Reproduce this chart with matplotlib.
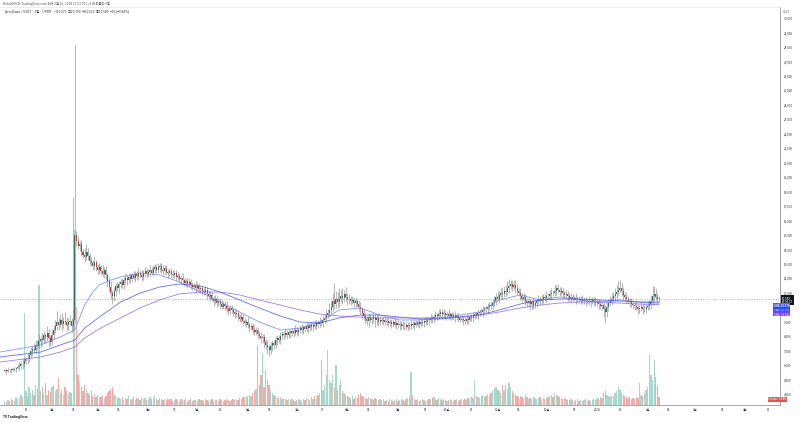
import matplotlib
matplotlib.use("Agg")
import matplotlib.pyplot as plt
import matplotlib.dates as mdates
import numpy as np
from datetime import datetime, timedelta

plt.rcParams['font.family'] = ['Noto Sans CJK KR', 'DejaVu Sans']

# ---------------- data ----------------
first_day = datetime(2023, 1, 3)

close_k = [
    5.62, 5.60, 5.66, 5.64, 5.70, 5.68, 5.75, 5.80, 5.86, 5.95,
    6.10, 6.05, 6.30, 6.45, 6.40, 6.70, 6.95, 7.10, 7.05, 7.40,
    7.35, 7.65, 7.80, 7.70, 8.05, 7.95, 8.20, 7.85, 7.60, 8.10,
    8.45, 8.70, 8.95, 8.80, 9.10, 8.85, 9.05, 9.00, 8.75, 8.95, 9.05, 8.70,
    9.10,
    15.00,
    14.55, 14.20, 14.35, 13.85, 13.60, 13.45, 13.80, 13.55, 13.20, 13.05, 12.85, 13.10, 12.80, 12.60,
    12.75, 12.50, 12.30, 12.55, 12.20, 11.80, 11.40, 11.00, 10.75, 11.10, 11.45, 11.30, 11.60,
    11.75, 11.55, 11.90, 12.05, 11.85, 12.10, 11.95, 12.20, 12.05, 12.30, 12.15, 12.40, 12.25, 12.10, 12.35, 12.50, 12.30, 12.45, 12.60, 12.40,
    12.65, 12.80, 12.55, 12.75, 12.85, 12.60, 12.50, 12.70, 12.45, 12.35,
    12.50, 12.30, 12.20, 12.35, 12.10, 12.15, 11.95, 12.05, 11.85, 11.70, 11.80, 11.60, 11.75, 11.55, 11.40, 11.50, 11.35, 11.45, 11.25, 11.30,
    11.15, 11.05, 11.20, 10.90, 10.75, 10.85, 10.60, 10.40, 10.55, 10.30, 10.45, 10.20, 10.05, 10.25, 10.10, 9.90, 9.75, 9.95, 9.80, 9.70,
    9.55, 9.60, 9.35, 9.20, 9.30, 9.05, 8.90, 9.00, 8.75, 8.60, 8.70, 8.45, 8.30, 8.40, 8.15, 8.00, 7.85, 7.95, 7.60, 7.40,
    7.25, 7.05, 7.30, 7.50, 7.40, 7.70, 7.85, 7.75, 8.00, 8.15, 8.05, 8.25, 8.10, 8.30, 8.20,
    8.35, 8.25, 8.45, 8.30, 8.40, 8.55, 8.45, 8.60, 8.50, 8.70, 8.55, 8.75, 8.65, 8.80, 8.70, 8.90, 8.85, 9.00, 8.90, 9.10,
    9.25, 9.45, 9.60, 9.80, 10.05, 10.40, 10.25, 10.55, 10.35, 10.60, 10.80, 10.65, 10.90, 10.70, 10.55,
    10.60, 10.45, 10.50, 10.30, 10.40, 10.20, 10.05, 9.85, 9.60, 9.40, 9.20, 9.05, 9.30, 9.15, 9.20, 9.35, 9.10, 9.25, 9.00, 9.15,
    9.05, 9.10, 8.95, 9.05, 8.90, 9.00, 8.85, 8.95, 8.80, 8.90, 8.75, 8.85, 8.70, 8.80, 8.75, 8.65, 8.80, 8.70, 8.85, 8.75,
    8.90, 8.80, 8.95, 8.85, 9.00, 8.90, 9.05, 9.00, 9.15, 9.10,
    9.25, 9.20, 9.35, 9.45, 9.40, 9.55, 9.65, 9.50, 9.60, 9.45, 9.55, 9.40, 9.50, 9.35, 9.45, 9.30, 9.40, 9.25, 9.15, 9.20,
    9.10, 9.05, 9.20, 9.15, 9.30, 9.25, 9.40, 9.50, 9.45, 9.60, 9.70, 9.65, 9.80, 9.90, 9.85, 10.00, 10.15, 10.10, 10.30, 10.45,
    10.70, 10.60, 10.85, 11.00, 10.90, 11.15, 11.05, 11.30, 11.45, 11.60, 11.40, 11.55, 11.30, 11.15, 11.00,
    10.80, 10.60, 10.70, 10.45, 10.30, 10.40, 10.20, 10.35, 10.15, 10.30, 10.45, 10.55, 10.45, 10.60, 10.70,
    10.65, 10.80, 10.75, 10.90, 11.00, 10.95, 11.15, 11.30, 11.20, 11.05, 11.10, 10.95, 10.85, 10.90, 10.75,
    10.65, 10.70, 10.60, 10.65, 10.55, 10.60, 10.50, 10.55, 10.45, 10.50, 10.40, 10.45, 10.35, 10.45, 10.50,
    10.40, 10.30, 10.35, 10.20, 10.10, 10.15, 9.85, 9.70, 10.05, 10.30, 10.45, 10.60, 10.75, 10.90, 11.05,
    11.20, 11.35, 11.10, 10.85, 10.70, 10.60, 10.45, 10.35, 10.25, 10.15, 10.10, 10.00, 9.90, 9.95, 10.05,
    9.85, 9.90, 10.00, 10.10, 10.20, 10.45, 10.75, 10.90, 10.70, 10.60, 10.58,
]
first_open_k = 5.60

# upper / lower wick lengths, in units of 100
wick_up = [
    1, 1, 2, 1, 1, 2, 1, 1, 2, 3,
    2, 3, 2, 1, 4, 2, 3, 2, 4, 3,
    3, 5, 2, 4, 3, 2, 5, 3, 2, 4,
    3, 4, 8, 3, 4, 5, 3, 6, 3, 3, 4, 2,
    85,
    131,
    3, 4, 2, 3, 2, 5, 6, 3, 2, 3, 2, 4, 2, 2,
    3, 2, 4, 2, 3, 2, 3, 4, 2, 3, 2, 3, 2,
    2, 3, 2, 3, 2, 2, 3, 2, 3, 2, 2, 3, 2, 3, 2, 3, 2, 2, 3, 2,
    3, 2, 2, 3, 2, 2, 3, 2, 2, 2,
    2, 2, 3, 2, 2, 3, 2, 2, 3, 2, 2, 2, 3, 2, 2, 2, 3, 2, 2, 2,
    2, 2, 3, 2, 2, 3, 2, 2, 3, 2, 2, 2, 3, 2, 2, 3, 2, 2, 2, 2,
    2, 3, 2, 2, 3, 2, 2, 2, 3, 2, 2, 2, 3, 2, 2, 2, 3, 2, 2, 2,
    3, 2, 3, 2, 2, 3, 2, 2, 3, 2, 2, 3, 2, 2, 2,
    2, 2, 3, 2, 2, 2, 3, 2, 2, 2, 3, 2, 2, 2, 3, 2, 2, 3, 2, 3,
    3, 4, 3, 5, 4, 6, 13, 6, 5, 7, 4, 5, 3, 5, 3,
    3, 2, 3, 2, 3, 2, 2, 3, 2, 3, 2, 2, 3, 2, 2, 3, 2, 2, 3, 2,
    2, 2, 2, 3, 2, 2, 2, 2, 3, 2, 2, 2, 2, 3, 2, 2, 2, 2, 3, 2,
    2, 2, 2, 3, 2, 2, 2, 3, 2, 2,
    3, 2, 2, 3, 2, 3, 2, 2, 3, 2, 2, 3, 2, 2, 2, 3, 2, 2, 2, 2,
    2, 2, 3, 2, 2, 2, 3, 2, 2, 3, 2, 2, 3, 2, 2, 3, 2, 3, 3, 3,
    3, 4, 3, 4, 3, 3, 4, 5, 5, 3, 3, 3, 3, 3, 2,
    3, 2, 3, 2, 2, 3, 2, 2, 3, 2, 2, 3, 2, 3, 2,
    2, 3, 2, 3, 3, 2, 4, 3, 3, 2, 3, 2, 2, 3, 2,
    2, 3, 2, 2, 3, 2, 2, 2, 3, 2, 2, 2, 3, 2, 2,
    2, 3, 2, 2, 3, 2, 2, 3, 3, 3, 3, 4, 3, 4, 5,
    6, 5, 3, 3, 2, 3, 2, 2, 3, 2, 2, 3, 2, 2, 3,
    2, 3, 2, 3, 3, 4, 7, 6, 4, 3, 2,
]
wick_dn = [
    1, 2, 1, 1, 2, 1, 1, 2, 1, 2,
    2, 3, 2, 2, 3, 2, 2, 3, 2, 3,
    3, 2, 4, 3, 2, 4, 3, 6, 3, 2,
    3, 2, 3, 4, 2, 5, 3, 2, 4, 3, 2, 4,
    3,
    2,
    3, 2, 3, 3, 2, 3, 2, 3, 3, 2, 3, 2, 3, 3,
    3, 3, 2, 3, 3, 4, 3, 4, 5, 3, 3, 2, 3,
    3, 2, 3, 2, 3, 2, 3, 2, 2, 3, 2, 3, 2, 3, 2, 2, 3, 2, 3, 2,
    2, 3, 2, 2, 3, 2, 3, 2, 2, 3,
    2, 3, 2, 2, 3, 2, 2, 3, 2, 2, 3, 2, 2, 3, 2, 2, 3, 2, 2, 3,
    3, 2, 2, 3, 2, 3, 2, 3, 2, 3, 2, 3, 2, 2, 3, 2, 3, 2, 2, 3,
    3, 2, 3, 2, 2, 3, 2, 3, 2, 3, 2, 3, 2, 2, 3, 2, 3, 3, 4, 3,
    5, 4, 3, 3, 3, 2, 3, 2, 3, 2, 3, 2, 3, 2, 3,
    2, 3, 2, 2, 3, 2, 2, 3, 2, 2, 3, 2, 2, 3, 2, 2, 3, 2, 2, 3,
    2, 3, 2, 3, 2, 3, 4, 3, 4, 3, 3, 4, 3, 3, 4,
    3, 3, 2, 3, 3, 2, 3, 3, 4, 3, 3, 3, 4, 2, 3, 3, 5, 3, 3, 2,
    2, 3, 2, 2, 3, 2, 3, 2, 2, 3, 2, 3, 2, 2, 3, 2, 2, 3, 2, 2,
    3, 2, 2, 3, 2, 2, 3, 2, 2, 3,
    2, 3, 2, 2, 3, 2, 2, 3, 2, 3, 2, 2, 3, 2, 2, 3, 2, 3, 2, 2,
    3, 2, 2, 3, 2, 2, 3, 2, 2, 3, 2, 2, 3, 2, 2, 3, 2, 2, 3, 2,
    3, 2, 3, 2, 3, 2, 3, 2, 3, 2, 3, 2, 3, 3, 2,
    3, 3, 2, 3, 3, 2, 4, 3, 3, 2, 3, 2, 3, 2, 3,
    2, 3, 2, 2, 3, 2, 2, 3, 2, 3, 2, 3, 2, 2, 3,
    2, 3, 2, 2, 3, 2, 2, 3, 2, 2, 3, 2, 2, 3, 2,
    3, 2, 3, 3, 2, 3, 5, 8, 4, 3, 2, 3, 2, 3, 3,
    3, 2, 3, 3, 2, 3, 2, 3, 2, 3, 3, 2, 4, 3, 2,
    3, 2, 3, 2, 3, 3, 3, 3, 2, 3, 2,
]
volume_k = [
    4, 3, 5, 4, 6, 5, 4, 8, 6, 7,
    10, 8, 92, 14, 9, 18, 12, 15, 10, 20,
    16, 120, 14, 18, 12, 22, 10, 15, 13, 18,
    20, 14, 16, 27, 12, 15, 10, 18, 14, 11, 13, 12,
    95,
    175,
    98, 30, 22, 18, 14, 20, 16, 12, 10, 14, 9, 11, 8, 10,
    9, 8, 10, 7, 9, 12, 14, 16, 18, 10, 9, 8, 7,
    6, 8, 5, 7, 6, 9, 5, 6, 8, 5, 7, 6, 5, 8, 6, 7, 5, 6, 8, 6,
    7, 9, 6, 5, 7, 6, 5, 6, 5, 6,
    5, 6, 4, 5, 6, 5, 4, 6, 5, 5, 7, 4, 5, 6, 4, 5, 5, 4, 6, 5,
    5, 4, 6, 5, 4, 5, 6, 4, 5, 5, 4, 6, 5, 4, 5, 6, 5, 4, 5, 6,
    5, 6, 5, 7, 6, 8, 7, 9, 8, 10, 9, 12, 14, 16, 60, 20, 30, 52, 18, 35,
    25, 20, 15, 12, 10, 9, 8, 7, 8, 6, 7, 6, 5, 6, 5,
    6, 5, 4, 5, 6, 5, 4, 6, 5, 7, 6, 5, 8, 6, 9, 7, 10, 12, 45, 15,
    20, 30, 55, 25, 22, 30, 18, 40, 15, 20, 25, 14, 12, 10, 9,
    8, 7, 9, 6, 8, 7, 10, 12, 9, 8, 7, 6, 8, 7, 6, 5, 7, 6, 5, 6,
    5, 6, 4, 5, 4, 6, 5, 4, 5, 6, 4, 5, 6, 5, 4, 6, 7, 8, 33, 10,
    6, 5, 6, 4, 5, 6, 5, 4, 5, 6,
    6, 7, 8, 6, 5, 7, 6, 5, 6, 5, 4, 5, 6, 5, 4, 5, 6, 4, 5, 6,
    5, 6, 5, 7, 6, 8, 7, 25, 9, 8, 7, 9, 10, 8, 9, 11, 10, 12, 14, 16,
    18, 15, 14, 12, 20, 14, 20, 16, 22, 18, 14, 12, 10, 9, 8,
    9, 8, 7, 10, 8, 6, 7, 6, 8, 7, 6, 7, 8, 6, 7,
    6, 7, 8, 9, 10, 8, 12, 10, 9, 8, 7, 6, 7, 6, 5,
    5, 6, 5, 4, 5, 6, 4, 5, 4, 5, 6, 4, 5, 4, 5,
    6, 5, 7, 6, 8, 7, 12, 14, 10, 9, 8, 10, 9, 12, 14,
    18, 15, 12, 10, 9, 8, 7, 8, 6, 7, 6, 8, 7, 22, 10,
    9, 12, 15, 18, 50, 30, 25, 45, 28, 20, 8,
]

# moving averages, sampled at candle positions
ma_day = [-3, 22, 34, 43, 49, 54, 58, 65, 71, 83, 95, 107, 120, 132, 144, 156, 169, 181,
          193, 205, 218, 230, 242, 254, 267, 279, 291, 303, 316, 328, 340, 352, 365, 377, 389, 401]
ma_fast_k = [6.90, 7.39, 7.94, 8.43, 10.15, 11.05, 11.54, 11.88, 12.09, 12.37, 12.23, 11.75,
             11.05, 10.36, 9.67, 8.98, 8.43, 8.56, 8.98, 9.81, 9.95, 9.46, 9.12, 9.12, 9.26,
             9.46, 9.67, 10.50, 10.85, 10.50, 10.71, 10.50, 10.36, 10.50, 10.36, 10.37]
ma_mid_k = [6.56, 6.90, 7.39, 7.73, 8.56, 8.98, 9.32, 9.88, 10.36, 10.98, 11.40, 11.61,
            11.47, 11.05, 10.50, 9.95, 9.39, 8.98, 8.91, 9.26, 9.46, 9.46, 9.32, 9.19, 9.19,
            9.32, 9.46, 9.81, 10.22, 10.50, 10.57, 10.57, 10.50, 10.43, 10.36, 10.29]
ma_slow_k = [6.21, 6.56, 6.90, 7.25, 7.87, 8.22, 8.50, 8.91, 9.26, 9.95, 10.50, 10.92,
             11.05, 11.05, 10.85, 10.50, 10.15, 9.81, 9.53, 9.39, 9.32, 9.26, 9.26, 9.26, 9.26,
             9.32, 9.46, 9.67, 9.95, 10.15, 10.29, 10.36, 10.36, 10.29, 10.22, 10.18]

month_ticks = [
    ("2023-01-16", "16"), ("2023-02-01", "2월"), ("2023-02-14", "14"), ("2023-03-01", "3월"),
    ("2023-03-14", "14"), ("2023-04-01", "4월"), ("2023-04-17", "17"), ("2023-05-01", "5월"),
    ("2023-05-15", "15"), ("2023-06-01", "6월"), ("2023-06-14", "14"), ("2023-07-01", "7월"),
    ("2023-07-17", "17"), ("2023-08-01", "8월"), ("2023-08-14", "14"), ("2023-09-01", "9월"),
    ("2023-09-18", "18"), ("2023-10-01", "10월"), ("2023-10-16", "16"), ("2023-11-01", "11월"),
    ("2023-11-14", "14"), ("2023-12-01", "12월"), ("2023-12-18", "18"), ("2024-01-01", "2024"),
    ("2024-01-15", "15"), ("2024-02-01", "2월"), ("2024-02-14", "14"), ("2024-03-01", "3월"),
    ("2024-03-18", "18"), ("2024-04-01", "4월"), ("2024-04-15", "15"),
]
price_ticks = [4000, 5000, 6000, 7000, 8000, 9000, 11000, 12000, 13000, 14000, 15000,
               16000, 17000, 18000, 19000, 20000, 21000, 22000, 23000, 24000, 25000,
               26000, 27000, 28000, 29000, 30000]

# ---------------- build OHLC ----------------
n = len(close_k)
assert len(wick_up) == n and len(wick_dn) == n and len(volume_k) == n, (n, len(wick_up), len(wick_dn), len(volume_k))
close = np.array(close_k) * 1000
opn = np.concatenate([[first_open_k * 1000], close[:-1]])
high = np.maximum(opn, close) + np.array(wick_up) * 100
low = np.minimum(opn, close) - np.array(wick_dn) * 100
dates = [first_day + timedelta(days=i) for i in range(n)]
xd = mdates.date2num(dates)
up = close >= opn

ma_x = mdates.date2num([first_day + timedelta(days=d) for d in ma_day])

# ---------------- figure ----------------
W, H = 800, 422
fig = plt.figure(figsize=(W / 100, H / 100), dpi=100)
fig.patch.set_facecolor('white')

pane_top, pane_bot, pane_right = 7, 405, 780
ax_vol = fig.add_axes([0, (H - pane_bot) / H, pane_right / W, (pane_bot - pane_top) / H])
ax = fig.add_axes([0, (H - pane_bot) / H, pane_right / W, (pane_bot - pane_top) / H])
ax.set_zorder(ax_vol.get_zorder() + 1)
ax.patch.set_visible(False)

x0 = mdates.date2num(datetime(2023, 1, 1)) - 0.86
x1 = mdates.date2num(datetime(2023, 1, 1)) + 477.1
for a in (ax, ax_vol):
    a.set_xlim(x0, x1)

# volume
vol_up_c = '#a6d8cb'
vol_dn_c = '#f6aaa7'
ax_vol.bar(xd, volume_k, width=0.8, color=[vol_up_c if u else vol_dn_c for u in up], linewidth=0)
ax_vol.set_ylim(0, pane_bot - pane_top)
ax_vol.axis('off')

# candles
up_c = '#2f7464'
dn_c = '#b0423d'
ax.vlines(xd, low, high, color='#8d8d8d', linewidth=0.45, zorder=2)
body_bot = np.minimum(opn, close)
body_h = np.maximum(np.abs(close - opn), 25)
ax.bar(xd, body_h, bottom=body_bot, width=0.62, color=[up_c if u else dn_c for u in up],
       linewidth=0, zorder=3)

# moving averages
ax.plot(ma_x, np.array(ma_fast_k) * 1000, color='#6f8cff', lw=0.6, alpha=0.9, zorder=4)
ax.plot(ma_x, np.array(ma_mid_k) * 1000, color='#3b4dff', lw=0.6, alpha=0.8, zorder=4)
ax.plot(ma_x, np.array(ma_slow_k) * 1000, color='#8a5cf5', lw=0.6, alpha=0.8, zorder=4)

# current price line
last = close[-1]
ax.axhline(last, color='#9a9a9a', lw=0.5, ls=(0, (1.5, 2)), zorder=1)

ymin, ymax = 3239, 30760
ax.set_ylim(ymin, ymax)

# axes styling
ax.yaxis.tick_right()
ax.set_yticks(price_ticks)
ax.set_yticklabels([f"{v:,}" for v in price_ticks])
ax.tick_params(axis='y', length=0, pad=3, labelsize=2.2, labelcolor='#333333')
ax.set_xticks(mdates.date2num([datetime.strptime(d, "%Y-%m-%d") for d, _ in month_ticks]))
ax.set_xticklabels([l for _, l in month_ticks])
ax.tick_params(axis='x', length=0, pad=2.2, labelsize=2.2, labelcolor='#333333')
ax.spines['left'].set_visible(False)
ax.spines['right'].set_color('#9598a1')
ax.spines['right'].set_linewidth(0.6)
ax.spines['bottom'].set_color('#9598a1')
ax.spines['bottom'].set_linewidth(0.6)
ax.spines['top'].set_color('#e6e8ee')
ax.spines['top'].set_linewidth(0.5)
ax.grid(False)

yt = ax.get_yaxis_transform()
ax.text(1.004, 30420, "USDT", transform=yt, fontsize=2.0, color='#555555', va='center', ha='left',
        clip_on=False)

ax.text(1.002, last - 80, f"{last:,.0f}\n06:06:57", transform=yt, fontsize=2.1, color='white',
        ha='left', va='center', linespacing=1.0, clip_on=False,
        bbox=dict(boxstyle='square,pad=0.25', fc='#131722', ec='none'))

ma_label_y = [10130, 9820, 9540]
ma_label_c = ['#4a64f5', '#3447ff', '#7a3cf0']
ma_last = [ma_fast_k[-1], ma_mid_k[-1], ma_slow_k[-1]]
for yy, cc, val in zip(ma_label_y, ma_label_c, ma_last):
    ax.text(0.992, yy, f"SMA  {val * 1000:,.0f}", transform=yt, fontsize=2.0, color='white',
            ha='left', va='center', clip_on=False,
            bbox=dict(boxstyle='square,pad=0.2', fc=cc, ec='none'))

ax.text(0.985, 0.009, f"Volume  {volume_k[-1]:.2f}K", transform=ax.transAxes, fontsize=2.0,
        color='white', ha='left', va='bottom', clip_on=False,
        bbox=dict(boxstyle='square,pad=0.2', fc='#e0554f', ec='none'))

fig.text(3 / W, 1 - 3.5 / H, "Bofa0000 이 TradingView.com 에서 2월 26, 2024 11:53 UTC+9 에 퍼블리시함",
         fontsize=2.3, color='#555555', ha='left', va='center')
fig.text(5 / W, 1 - 11.5 / H,
         "AeroDawn / USDT · 1일 · UPBIT   시10,670  고10,790  저10,510  종10,580  −90 (−0.84%)",
         fontsize=2.3, color='#333333', ha='left', va='center')
fig.text(3 / W, 1 - 417 / H, "TV TradingView", fontsize=2.3, color='#131722', ha='left',
         va='center', fontweight='bold')

fig.savefig("out.png", dpi=100, facecolor='white')
